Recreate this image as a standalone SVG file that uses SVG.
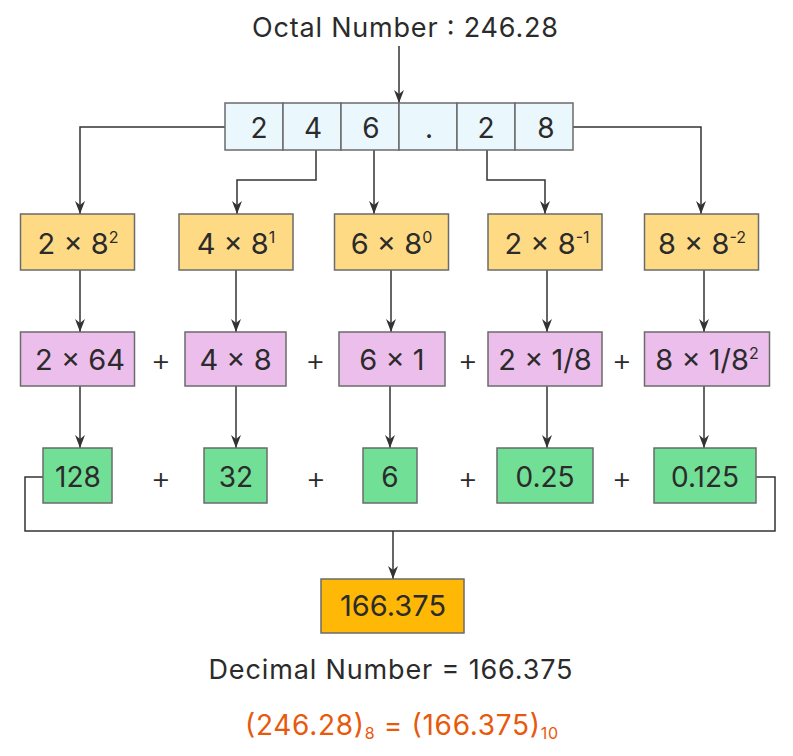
<svg xmlns="http://www.w3.org/2000/svg" width="793" height="756" viewBox="0 0 793 756">
<defs>
<style>
.t{font-family:Inter,"Liberation Sans",sans-serif;fill:#2b2b2b;text-anchor:middle}
.bx{stroke:#6b6b6b;stroke-width:1.5}
.cell{fill:#EAF7FD}
.yl{fill:#FFDA85}
.pk{fill:#EBBEEB}
.gr{fill:#72DF96}
.or{fill:#FFB806}
.c{fill:none;stroke:#333;stroke-width:1.5}
.a{marker-end:url(#ah)}
.sup{font-size:16px}
.pl{font-size:31px;font-weight:300}
</style>
<marker id="ah" viewBox="0 0 13 10" refX="13" refY="5" markerWidth="13" markerHeight="10" markerUnits="userSpaceOnUse" orient="auto">
<path d="M0,0 L13,5 L0,10 L4,5 z" fill="#333"/>
</marker>
</defs>
<rect width="793" height="756" fill="#fff"/>

<g id="connectors">
<path class="c a" d="M399,46 V103"/>
<path class="c a" d="M225,127 H80 V214"/>
<path class="c a" d="M316,150 V180 H237 V214"/>
<path class="c a" d="M374,150 V214"/>
<path class="c a" d="M487,150 V180 H545 V214"/>
<path class="c a" d="M573,127 H701 V214"/>
<path class="c a" d="M80,270 V332"/>
<path class="c a" d="M236,270 V332"/>
<path class="c a" d="M391,270 V332"/>
<path class="c a" d="M547,270 V332"/>
<path class="c a" d="M704,270 V332"/>
<path class="c a" d="M80,386 V448"/>
<path class="c a" d="M236,386 V448"/>
<path class="c a" d="M390,386 V448"/>
<path class="c a" d="M547,386 V448"/>
<path class="c a" d="M704,386 V448"/>
<path class="c" d="M43,477 H25 V531 H775 V477 H756"/>
<path class="c a" d="M393,531 V579"/>
</g>

<g id="title"><text class="t" x="405" y="37" font-size="27" textLength="306">Octal Number : 246.28</text></g>

<g id="octal-digits">
<rect class="bx cell" x="225" y="103" width="58" height="47"/>
<rect class="bx cell" x="283" y="103" width="58" height="47"/>
<rect class="bx cell" x="341" y="103" width="58" height="47"/>
<rect class="bx cell" x="399" y="103" width="58" height="47"/>
<rect class="bx cell" x="457" y="103" width="58" height="47"/>
<rect class="bx cell" x="515" y="103" width="58" height="47"/>
<text class="t" x="259" y="138" font-size="28">2</text>
<text class="t" x="313" y="138" font-size="28">4</text>
<text class="t" x="371" y="138" font-size="28">6</text>
<text class="t" x="429" y="138" font-size="28">.</text>
<text class="t" x="486" y="138" font-size="28">2</text>
<text class="t" x="546" y="138" font-size="28">8</text>
</g>

<g id="pow1"><rect class="bx yl" x="20.5" y="214" width="114" height="56"/><text class="t" x="78" y="254" font-size="29">2 × 8<tspan class="sup" dy="-11">2</tspan></text></g>
<g id="pow2"><rect class="bx yl" x="179" y="214" width="114" height="56"/><text class="t" x="236" y="254" font-size="29">4 × 8<tspan class="sup" dy="-11">1</tspan></text></g>
<g id="pow3"><rect class="bx yl" x="334.5" y="214" width="114" height="56"/><text class="t" x="391.5" y="254" font-size="29">6 × 8<tspan class="sup" dy="-11">0</tspan></text></g>
<g id="pow4"><rect class="bx yl" x="488" y="214" width="114" height="56"/><text class="t" x="547" y="254" font-size="29">2 × 8<tspan class="sup" dy="-11">-1</tspan></text></g>
<g id="pow5"><rect class="bx yl" x="644.5" y="214" width="114" height="56"/><text class="t" x="702" y="254" font-size="29">8 × 8<tspan class="sup" dy="-11">-2</tspan></text></g>

<g id="val1"><rect class="bx pk" x="20.5" y="332" width="114" height="54"/><text class="t" x="80" y="370" font-size="29">2 × 64</text></g>
<g id="val2"><rect class="bx pk" x="185" y="332" width="101" height="54"/><text class="t" x="235.5" y="370" font-size="29">4 × 8</text></g>
<g id="val3"><rect class="bx pk" x="339" y="332" width="106" height="54"/><text class="t" x="392" y="370" font-size="29">6 × 1</text></g>
<g id="val4"><rect class="bx pk" x="488" y="332" width="114" height="54"/><text class="t" x="545" y="370" font-size="29">2 × 1/8</text></g>
<g id="val5"><rect class="bx pk" x="644.5" y="332" width="125" height="54"/><text class="t" x="707" y="370" font-size="29">8 × 1/8<tspan class="sup" dy="-11">2</tspan></text></g>

<g id="plus-row1">
<text class="t pl" x="161" y="371">+</text>
<text class="t pl" x="315.5" y="371">+</text>
<text class="t pl" x="468" y="371">+</text>
<text class="t pl" x="622" y="371">+</text>
</g>

<g id="res1"><rect class="bx gr" x="43" y="448" width="69" height="55"/><text class="t" x="78" y="487" font-size="28">128</text></g>
<g id="res2"><rect class="bx gr" x="204" y="448" width="63" height="55"/><text class="t" x="236" y="487" font-size="28">32</text></g>
<g id="res3"><rect class="bx gr" x="363" y="448" width="54" height="55"/><text class="t" x="390" y="487" font-size="28">6</text></g>
<g id="res4"><rect class="bx gr" x="497" y="448" width="96" height="55"/><text class="t" x="545" y="487" font-size="28">0.25</text></g>
<g id="res5"><rect class="bx gr" x="654" y="448" width="102" height="55"/><text class="t" x="705" y="487" font-size="28">0.125</text></g>

<g id="plus-row2">
<text class="t pl" x="161" y="489">+</text>
<text class="t pl" x="316" y="489">+</text>
<text class="t pl" x="468" y="489">+</text>
<text class="t pl" x="622" y="489">+</text>
</g>

<g id="sum"><rect class="bx or" x="321" y="579" width="143" height="54"/><text class="t" x="393" y="616" font-size="29">166.375</text></g>

<g id="decimal"><text class="t" x="390.5" y="679" font-size="27" textLength="364">Decimal Number = 166.375</text></g>

<g id="equation"><text class="t" x="401.5" y="735" font-size="28" textLength="313" style="fill:#E8590C">(246.28)<tspan font-size="16" dy="4">8</tspan><tspan dy="-4"> = (166.375)</tspan><tspan font-size="16" dy="4">10</tspan></text></g>
</svg>
